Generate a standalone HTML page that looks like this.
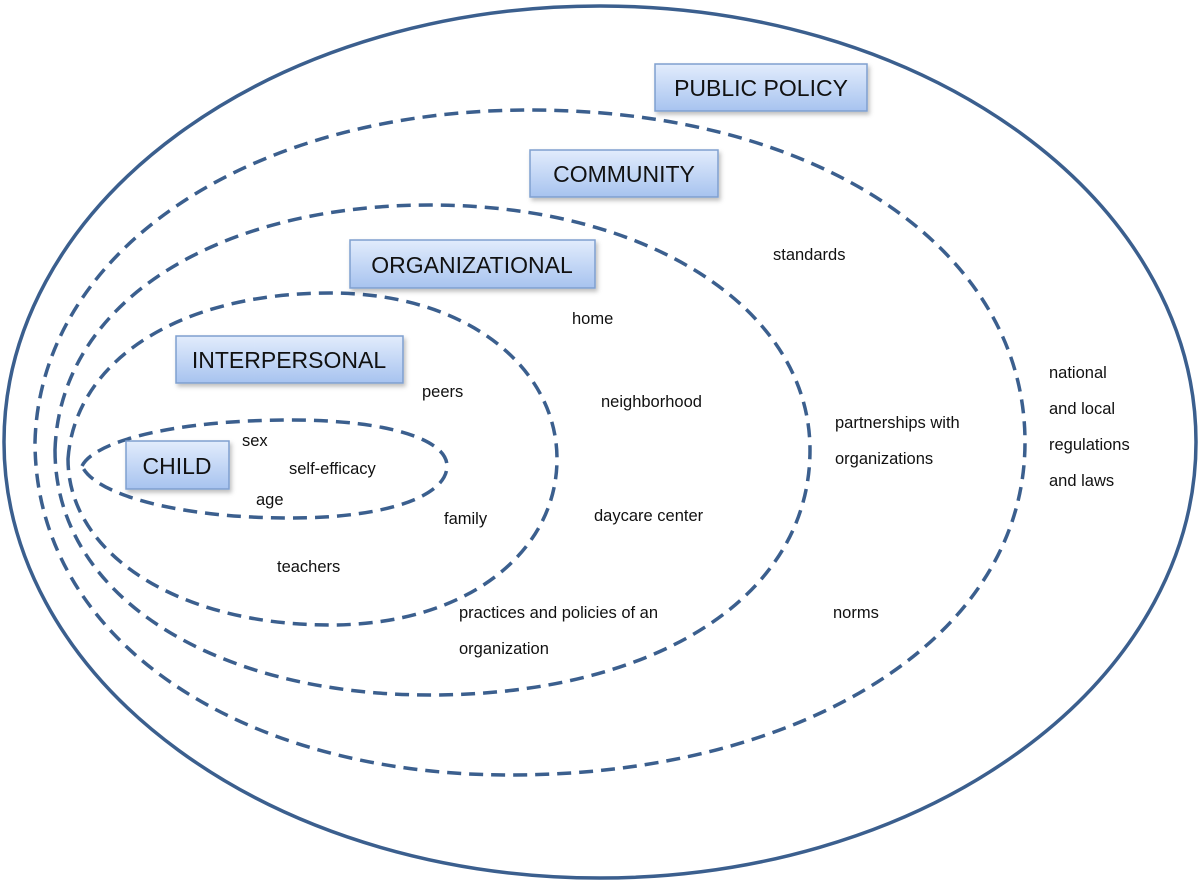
<!DOCTYPE html>
<html><head><meta charset="utf-8"><style>
body{margin:0;background:#fff;}
svg{display:block}
.t{font-family:"Liberation Sans",Arial,sans-serif;font-size:16.5px;fill:#111}
.b{font-family:"Liberation Sans",Arial,sans-serif;font-size:23px;fill:#111}
</style></head><body>
<svg width="1200" height="883" viewBox="0 0 1200 883" xmlns="http://www.w3.org/2000/svg">
<defs>
<linearGradient id="g" x1="0" y1="0" x2="0" y2="1">
<stop offset="0" stop-color="#e2ecfc"/><stop offset="1" stop-color="#a7c3ef"/>
</linearGradient>
<filter id="s" x="-10%" y="-10%" width="130%" height="140%"><feDropShadow dx="2" dy="3" stdDeviation="2" flood-color="#000" flood-opacity="0.25"/></filter>
</defs>
<ellipse cx="600" cy="442" rx="596" ry="436" fill="none" stroke="#3b5f8e" stroke-width="3.5"/>
<g fill="none" stroke="#3b5f8e" stroke-width="3.5" stroke-dasharray="14 8">
<path d="M35,442 C40,250 250,110 530,110 C820,110 1025,250 1025,442 C1025,640 800,775 510,775 C240,775 35,640 35,442 Z"/>
<path d="M55,450 C60,300 220,205 430,205 C650,205 810,310 810,450 C810,600 650,695 430,695 C220,695 55,600 55,450 Z"/>
<path d="M68,459 C75,360 180,293 330,293 C470,293 557,370 557,459 C557,550 470,625 330,625 C180,625 68,555 68,459 Z"/>
<path d="M82,466 C95,440 180,420 290,420 C390,420 447,440 447,466 C447,495 390,518 290,518 C180,518 95,495 82,466 Z"/>
</g>
<g filter="url(#s)" fill="url(#g)" stroke="#7f9fcf" stroke-width="1.5">
<rect x="655" y="64" width="212" height="47"/>
<rect x="530" y="150" width="188" height="47"/>
<rect x="350" y="240" width="245" height="48"/>
<rect x="176" y="336" width="227" height="47"/>
<rect x="126" y="441" width="103" height="48"/>
</g>
<text class="b" x="761" y="96" text-anchor="middle">PUBLIC POLICY</text>
<text class="b" x="624" y="182" text-anchor="middle">COMMUNITY</text>
<text class="b" x="472" y="273" text-anchor="middle">ORGANIZATIONAL</text>
<text class="b" x="289" y="368" text-anchor="middle">INTERPERSONAL</text>
<text class="b" x="177" y="474" text-anchor="middle">CHILD</text>
<g class="t">
<text x="773" y="260">standards</text>
<text x="572" y="324">home</text>
<text x="422" y="397">peers</text>
<text x="601" y="407">neighborhood</text>
<text x="835" y="428">partnerships with</text>
<text x="835" y="464">organizations</text>
<text x="1049" y="378">national</text>
<text x="1049" y="414">and local</text>
<text x="1049" y="450">regulations</text>
<text x="1049" y="486">and laws</text>
<text x="242" y="446">sex</text>
<text x="289" y="474">self-efficacy</text>
<text x="256" y="505">age</text>
<text x="444" y="524">family</text>
<text x="594" y="521">daycare center</text>
<text x="277" y="572">teachers</text>
<text x="459" y="618">practices and policies of an</text>
<text x="459" y="654">organization</text>
<text x="833" y="618">norms</text>
</g>
</svg>
</body></html>
